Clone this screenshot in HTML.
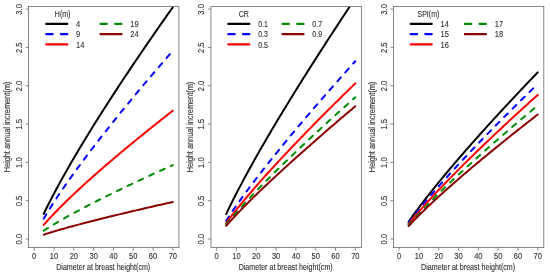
<!DOCTYPE html>
<html><head><meta charset="utf-8"><title>Height annual increment</title>
<style>html,body{margin:0;padding:0;background:#fff;overflow:hidden}svg{display:block}text{stroke:#303030;stroke-width:0.12px}</style>
</head><body>
<svg width="550" height="275" viewBox="0 0 550 275" font-family="'Liberation Sans', Arial, sans-serif" font-size="9.0" fill="#303030">
<rect width="550" height="275" fill="#fff"/>
<filter id="bl" x="0" y="0" width="100%" height="100%" filterUnits="userSpaceOnUse" color-interpolation-filters="sRGB"><feGaussianBlur stdDeviation="0.45 0.3"/></filter>
<g filter="url(#bl)">
<rect width="550" height="275" fill="#fff"/>
<g transform="translate(0.00,0)">
<clipPath id="c0"><rect x="28.5" y="6.5" width="150.4" height="241.1"/></clipPath>
<g clip-path="url(#c0)" fill="none" stroke-width="2.0" stroke-linecap="round" stroke-linejoin="round">
<path d="M43.73,213.92 L45.71,209.79 L47.70,205.77 L49.69,201.83 L51.67,197.97 L53.66,194.18 L55.64,190.44 L57.63,186.75 L59.61,183.11 L61.60,179.51 L63.59,175.95 L65.57,172.42 L67.56,168.93 L69.54,165.47 L71.53,162.04 L73.51,158.64 L75.50,155.26 L77.49,151.90 L79.47,148.57 L81.46,145.27 L83.44,141.98 L85.43,138.71 L87.41,135.46 L89.40,132.23 L91.39,129.02 L93.37,125.82 L95.36,122.64 L97.34,119.48 L99.33,116.33 L101.31,113.19 L103.30,110.07 L105.29,106.97 L107.27,103.87 L109.26,100.79 L111.24,97.72 L113.23,94.66 L115.21,91.62 L117.20,88.58 L119.19,85.56 L121.17,82.55 L123.16,79.54 L125.14,76.55 L127.13,73.57 L129.11,70.60 L131.10,67.63 L133.08,64.68 L135.07,61.73 L137.06,58.80 L139.04,55.87 L141.03,52.95 L143.01,50.04 L145.00,47.14 L146.98,44.24 L148.97,41.35 L150.96,38.47 L152.94,35.60 L154.93,32.73 L156.91,29.88 L158.90,27.03 L160.88,24.18 L162.87,21.34 L164.86,18.51 L166.84,15.69 L168.83,12.87 L170.81,10.06 L172.80,7.25" stroke="#000000"/>
<path d="M43.73,218.57 L45.71,215.22 L47.70,211.96 L49.69,208.76 L51.67,205.63 L53.66,202.55 L55.64,199.51 L57.63,196.52 L59.61,193.57 L61.60,190.64 L63.59,187.76 L65.57,184.89 L67.56,182.06 L69.54,179.25 L71.53,176.47 L73.51,173.71 L75.50,170.97 L77.49,168.24 L79.47,165.54 L81.46,162.86 L83.44,160.19 L85.43,157.54 L87.41,154.90 L89.40,152.28 L91.39,149.67 L93.37,147.08 L95.36,144.50 L97.34,141.93 L99.33,139.37 L101.31,136.83 L103.30,134.30 L105.29,131.78 L107.27,129.27 L109.26,126.76 L111.24,124.27 L113.23,121.79 L115.21,119.32 L117.20,116.86 L119.19,114.41 L121.17,111.96 L123.16,109.52 L125.14,107.10 L127.13,104.68 L129.11,102.26 L131.10,99.86 L133.08,97.46 L135.07,95.07 L137.06,92.69 L139.04,90.31 L141.03,87.94 L143.01,85.58 L145.00,83.22 L146.98,80.87 L148.97,78.53 L150.96,76.19 L152.94,73.86 L154.93,71.54 L156.91,69.22 L158.90,66.90 L160.88,64.59 L162.87,62.29 L164.86,59.99 L166.84,57.70 L168.83,55.42 L170.81,53.13 L172.80,50.86" stroke="#0000ff" stroke-dasharray="5.1 6.8"/>
<path d="M43.73,224.96 L45.71,222.67 L47.70,220.45 L49.69,218.27 L51.67,216.14 L53.66,214.04 L55.64,211.97 L57.63,209.93 L59.61,207.92 L61.60,205.93 L63.59,203.96 L65.57,202.01 L67.56,200.08 L69.54,198.17 L71.53,196.28 L73.51,194.39 L75.50,192.53 L77.49,190.67 L79.47,188.83 L81.46,187.00 L83.44,185.18 L85.43,183.38 L87.41,181.58 L89.40,179.80 L91.39,178.02 L93.37,176.25 L95.36,174.50 L97.34,172.75 L99.33,171.01 L101.31,169.27 L103.30,167.55 L105.29,165.83 L107.27,164.12 L109.26,162.42 L111.24,160.72 L113.23,159.03 L115.21,157.34 L117.20,155.67 L119.19,154.00 L121.17,152.33 L123.16,150.67 L125.14,149.02 L127.13,147.37 L129.11,145.72 L131.10,144.09 L133.08,142.45 L135.07,140.82 L137.06,139.20 L139.04,137.58 L141.03,135.97 L143.01,134.36 L145.00,132.75 L146.98,131.15 L148.97,129.56 L150.96,127.96 L152.94,126.38 L154.93,124.79 L156.91,123.21 L158.90,121.64 L160.88,120.06 L162.87,118.49 L164.86,116.93 L166.84,115.37 L168.83,113.81 L170.81,112.26 L172.80,110.70" stroke="#ff0000"/>
<path d="M43.73,230.76 L45.71,229.45 L47.70,228.17 L49.69,226.92 L51.67,225.69 L53.66,224.49 L55.64,223.30 L57.63,222.13 L59.61,220.97 L61.60,219.83 L63.59,218.70 L65.57,217.58 L67.56,216.47 L69.54,215.37 L71.53,214.28 L73.51,213.20 L75.50,212.13 L77.49,211.06 L79.47,210.00 L81.46,208.95 L83.44,207.91 L85.43,206.87 L87.41,205.84 L89.40,204.81 L91.39,203.79 L93.37,202.78 L95.36,201.77 L97.34,200.76 L99.33,199.76 L101.31,198.76 L103.30,197.77 L105.29,196.79 L107.27,195.80 L109.26,194.82 L111.24,193.85 L113.23,192.88 L115.21,191.91 L117.20,190.95 L119.19,189.99 L121.17,189.03 L123.16,188.08 L125.14,187.13 L127.13,186.18 L129.11,185.23 L131.10,184.29 L133.08,183.35 L135.07,182.42 L137.06,181.49 L139.04,180.56 L141.03,179.63 L143.01,178.70 L145.00,177.78 L146.98,176.86 L148.97,175.94 L150.96,175.03 L152.94,174.12 L154.93,173.21 L156.91,172.30 L158.90,171.39 L160.88,170.49 L162.87,169.59 L164.86,168.69 L166.84,167.79 L168.83,166.90 L170.81,166.00 L172.80,165.11" stroke="#008b00" stroke-dasharray="5.1 6.8"/>
<path d="M43.73,234.69 L45.71,234.04 L47.70,233.40 L49.69,232.78 L51.67,232.17 L53.66,231.57 L55.64,230.97 L57.63,230.39 L59.61,229.81 L61.60,229.24 L63.59,228.68 L65.57,228.12 L67.56,227.57 L69.54,227.02 L71.53,226.48 L73.51,225.94 L75.50,225.40 L77.49,224.87 L79.47,224.35 L81.46,223.82 L83.44,223.30 L85.43,222.78 L87.41,222.27 L89.40,221.76 L91.39,221.25 L93.37,220.74 L95.36,220.24 L97.34,219.74 L99.33,219.24 L101.31,218.74 L103.30,218.25 L105.29,217.76 L107.27,217.27 L109.26,216.78 L111.24,216.29 L113.23,215.81 L115.21,215.33 L117.20,214.85 L119.19,214.37 L121.17,213.89 L123.16,213.42 L125.14,212.94 L127.13,212.47 L129.11,212.00 L131.10,211.53 L133.08,211.06 L135.07,210.60 L137.06,210.13 L139.04,209.67 L141.03,209.21 L143.01,208.75 L145.00,208.29 L146.98,207.83 L148.97,207.37 L150.96,206.91 L152.94,206.46 L154.93,206.01 L156.91,205.55 L158.90,205.10 L160.88,204.65 L162.87,204.20 L164.86,203.75 L166.84,203.31 L168.83,202.86 L170.81,202.42 L172.80,201.97" stroke="#8b0000"/>
</g>
<rect x="28.5" y="6.5" width="150.4" height="241.1" fill="none" stroke="#6a6a6a" stroke-width="0.8"/>
<path d="M34.20,247.6 v3 M54.01,247.6 v3 M73.82,247.6 v3 M93.63,247.6 v3 M113.44,247.6 v3 M133.25,247.6 v3 M153.06,247.6 v3 M172.87,247.6 v3 M28.5,239.00 h-3 M28.5,200.69 h-3 M28.5,162.37 h-3 M28.5,124.06 h-3 M28.5,85.74 h-3 M28.5,47.43 h-3 M28.5,9.11 h-3" stroke="#6a6a6a" stroke-width="0.8" fill="none"/>
<text transform="translate(34.20,258.6) scale(0.84,1)" text-anchor="middle">0</text>
<text transform="translate(54.01,258.6) scale(0.84,1)" text-anchor="middle">10</text>
<text transform="translate(73.82,258.6) scale(0.84,1)" text-anchor="middle">20</text>
<text transform="translate(93.63,258.6) scale(0.84,1)" text-anchor="middle">30</text>
<text transform="translate(113.44,258.6) scale(0.84,1)" text-anchor="middle">40</text>
<text transform="translate(133.25,258.6) scale(0.84,1)" text-anchor="middle">50</text>
<text transform="translate(153.06,258.6) scale(0.84,1)" text-anchor="middle">60</text>
<text transform="translate(172.87,258.6) scale(0.84,1)" text-anchor="middle">70</text>
<text transform="translate(21.6,239.30) rotate(-90) scale(0.84,1)" text-anchor="middle">0.0</text>
<text transform="translate(21.6,200.99) rotate(-90) scale(0.84,1)" text-anchor="middle">0.5</text>
<text transform="translate(21.6,162.67) rotate(-90) scale(0.84,1)" text-anchor="middle">1.0</text>
<text transform="translate(21.6,124.36) rotate(-90) scale(0.84,1)" text-anchor="middle">1.5</text>
<text transform="translate(21.6,86.04) rotate(-90) scale(0.84,1)" text-anchor="middle">2.0</text>
<text transform="translate(21.6,47.73) rotate(-90) scale(0.84,1)" text-anchor="middle">2.5</text>
<text transform="translate(21.6,9.41) rotate(-90) scale(0.84,1)" text-anchor="middle">3.0</text>
<text transform="translate(103.20,270.4) scale(0.79,1)" text-anchor="middle">Diameter at breast height(cm)</text>
<text transform="translate(10.3,127.05) rotate(-90) scale(0.816,1)" text-anchor="middle">Height annual increment(m)</text>
<text transform="translate(62.6,17.2) scale(0.78,1)" text-anchor="middle">H(m)</text>
<path d="M46.25,23.90 h21.10" stroke="#000000" stroke-width="2.1" stroke-linecap="round" fill="none"/>
<text transform="translate(76.10,27.10) scale(0.84,1)">4</text>
<path d="M46.25,34.15 h21.10" stroke="#0000ff" stroke-width="2.1" stroke-linecap="round" fill="none" stroke-dasharray="6.4 8.3"/>
<text transform="translate(76.10,37.35) scale(0.84,1)">9</text>
<path d="M46.25,44.40 h21.10" stroke="#ff0000" stroke-width="2.1" stroke-linecap="round" fill="none"/>
<text transform="translate(76.10,47.60) scale(0.84,1)">14</text>
<path d="M100.45,23.90 h21.10" stroke="#008b00" stroke-width="2.1" stroke-linecap="round" fill="none" stroke-dasharray="6.4 8.3"/>
<text transform="translate(130.30,27.10) scale(0.84,1)">19</text>
<path d="M100.45,34.15 h21.10" stroke="#8b0000" stroke-width="2.1" stroke-linecap="round" fill="none"/>
<text transform="translate(130.30,37.35) scale(0.84,1)">24</text>
</g>
<g transform="translate(182.45,0)">
<clipPath id="c1"><rect x="28.5" y="6.5" width="150.4" height="241.1"/></clipPath>
<g clip-path="url(#c1)" fill="none" stroke-width="2.0" stroke-linecap="round" stroke-linejoin="round">
<path d="M43.73,214.10 L45.71,209.91 L47.70,205.82 L49.69,201.81 L51.67,197.86 L53.66,193.97 L55.64,190.14 L57.63,186.35 L59.61,182.60 L61.60,178.90 L63.59,175.22 L65.57,171.58 L67.56,167.98 L69.54,164.40 L71.53,160.84 L73.51,157.32 L75.50,153.81 L77.49,150.33 L79.47,146.87 L81.46,143.43 L83.44,140.01 L85.43,136.61 L87.41,133.22 L89.40,129.86 L91.39,126.51 L93.37,123.17 L95.36,119.85 L97.34,116.54 L99.33,113.25 L101.31,109.97 L103.30,106.71 L105.29,103.45 L107.27,100.21 L109.26,96.98 L111.24,93.76 L113.23,90.56 L115.21,87.36 L117.20,84.17 L119.19,81.00 L121.17,77.83 L123.16,74.68 L125.14,71.53 L127.13,68.39 L129.11,65.27 L131.10,62.15 L133.08,59.04 L135.07,55.93 L137.06,52.84 L139.04,49.75 L141.03,46.68 L143.01,43.61 L145.00,40.54 L146.98,37.49 L148.97,34.44 L150.96,31.40 L152.94,28.36 L154.93,25.34 L156.91,22.31 L158.90,19.30 L160.88,16.29 L162.87,13.29 L164.86,10.30 L166.84,7.31 L168.83,4.32 L170.81,1.35 L172.80,-1.63" stroke="#000000"/>
<path d="M43.73,220.75 L45.71,217.68 L47.70,214.68 L49.69,211.73 L51.67,208.83 L53.66,205.98 L55.64,203.16 L57.63,200.37 L59.61,197.61 L61.60,194.88 L63.59,192.18 L65.57,189.50 L67.56,186.84 L69.54,184.20 L71.53,181.58 L73.51,178.98 L75.50,176.39 L77.49,173.82 L79.47,171.27 L81.46,168.73 L83.44,166.20 L85.43,163.69 L87.41,161.19 L89.40,158.70 L91.39,156.22 L93.37,153.76 L95.36,151.30 L97.34,148.86 L99.33,146.42 L101.31,144.00 L103.30,141.58 L105.29,139.17 L107.27,136.77 L109.26,134.38 L111.24,132.00 L113.23,129.63 L115.21,127.26 L117.20,124.90 L119.19,122.55 L121.17,120.21 L123.16,117.87 L125.14,115.54 L127.13,113.21 L129.11,110.90 L131.10,108.58 L133.08,106.28 L135.07,103.98 L137.06,101.69 L139.04,99.40 L141.03,97.12 L143.01,94.84 L145.00,92.57 L146.98,90.30 L148.97,88.04 L150.96,85.78 L152.94,83.53 L154.93,81.29 L156.91,79.05 L158.90,76.81 L160.88,74.58 L162.87,72.35 L164.86,70.13 L166.84,67.91 L168.83,65.69 L170.81,63.48 L172.80,61.28" stroke="#0000ff" stroke-dasharray="5.1 6.8"/>
<path d="M43.73,222.98 L45.71,220.29 L47.70,217.67 L49.69,215.09 L51.67,212.55 L53.66,210.05 L55.64,207.58 L57.63,205.14 L59.61,202.73 L61.60,200.34 L63.59,197.98 L65.57,195.63 L67.56,193.30 L69.54,190.99 L71.53,188.70 L73.51,186.42 L75.50,184.16 L77.49,181.91 L79.47,179.68 L81.46,177.45 L83.44,175.24 L85.43,173.04 L87.41,170.86 L89.40,168.68 L91.39,166.51 L93.37,164.35 L95.36,162.20 L97.34,160.06 L99.33,157.93 L101.31,155.81 L103.30,153.70 L105.29,151.59 L107.27,149.49 L109.26,147.40 L111.24,145.31 L113.23,143.24 L115.21,141.17 L117.20,139.10 L119.19,137.04 L121.17,134.99 L123.16,132.95 L125.14,130.91 L127.13,128.87 L129.11,126.84 L131.10,124.82 L133.08,122.80 L135.07,120.79 L137.06,118.78 L139.04,116.78 L141.03,114.79 L143.01,112.79 L145.00,110.81 L146.98,108.82 L148.97,106.84 L150.96,104.87 L152.94,102.90 L154.93,100.93 L156.91,98.97 L158.90,97.02 L160.88,95.06 L162.87,93.11 L164.86,91.17 L166.84,89.23 L168.83,87.29 L170.81,85.35 L172.80,83.42" stroke="#ff0000"/>
<path d="M43.73,224.56 L45.71,222.13 L47.70,219.76 L49.69,217.42 L51.67,215.12 L53.66,212.85 L55.64,210.62 L57.63,208.40 L59.61,206.21 L61.60,204.04 L63.59,201.89 L65.57,199.76 L67.56,197.64 L69.54,195.54 L71.53,193.46 L73.51,191.38 L75.50,189.32 L77.49,187.28 L79.47,185.24 L81.46,183.22 L83.44,181.20 L85.43,179.20 L87.41,177.20 L89.40,175.22 L91.39,173.24 L93.37,171.27 L95.36,169.31 L97.34,167.36 L99.33,165.42 L101.31,163.48 L103.30,161.55 L105.29,159.63 L107.27,157.71 L109.26,155.80 L111.24,153.90 L113.23,152.00 L115.21,150.11 L117.20,148.23 L119.19,146.35 L121.17,144.47 L123.16,142.60 L125.14,140.74 L127.13,138.88 L129.11,137.03 L131.10,135.18 L133.08,133.33 L135.07,131.49 L137.06,129.66 L139.04,127.83 L141.03,126.00 L143.01,124.18 L145.00,122.36 L146.98,120.54 L148.97,118.73 L150.96,116.93 L152.94,115.12 L154.93,113.33 L156.91,111.53 L158.90,109.74 L160.88,107.95 L162.87,106.17 L164.86,104.39 L166.84,102.61 L168.83,100.83 L170.81,99.06 L172.80,97.29" stroke="#008b00" stroke-dasharray="5.1 6.8"/>
<path d="M43.73,225.80 L45.71,223.56 L47.70,221.36 L49.69,219.20 L51.67,217.07 L53.66,214.97 L55.64,212.89 L57.63,210.83 L59.61,208.79 L61.60,206.77 L63.59,204.76 L65.57,202.78 L67.56,200.80 L69.54,198.84 L71.53,196.89 L73.51,194.95 L75.50,193.03 L77.49,191.11 L79.47,189.21 L81.46,187.31 L83.44,185.43 L85.43,183.55 L87.41,181.68 L89.40,179.82 L91.39,177.96 L93.37,176.11 L95.36,174.27 L97.34,172.44 L99.33,170.62 L101.31,168.79 L103.30,166.98 L105.29,165.17 L107.27,163.37 L109.26,161.57 L111.24,159.78 L113.23,158.00 L115.21,156.22 L117.20,154.44 L119.19,152.67 L121.17,150.90 L123.16,149.14 L125.14,147.38 L127.13,145.63 L129.11,143.88 L131.10,142.14 L133.08,140.40 L135.07,138.66 L137.06,136.93 L139.04,135.20 L141.03,133.48 L143.01,131.76 L145.00,130.04 L146.98,128.32 L148.97,126.61 L150.96,124.91 L152.94,123.20 L154.93,121.50 L156.91,119.81 L158.90,118.11 L160.88,116.42 L162.87,114.73 L164.86,113.05 L166.84,111.37 L168.83,109.69 L170.81,108.01 L172.80,106.34" stroke="#8b0000"/>
</g>
<rect x="28.5" y="6.5" width="150.4" height="241.1" fill="none" stroke="#6a6a6a" stroke-width="0.8"/>
<path d="M34.20,247.6 v3 M54.01,247.6 v3 M73.82,247.6 v3 M93.63,247.6 v3 M113.44,247.6 v3 M133.25,247.6 v3 M153.06,247.6 v3 M172.87,247.6 v3 M28.5,239.00 h-3 M28.5,200.69 h-3 M28.5,162.37 h-3 M28.5,124.06 h-3 M28.5,85.74 h-3 M28.5,47.43 h-3 M28.5,9.11 h-3" stroke="#6a6a6a" stroke-width="0.8" fill="none"/>
<text transform="translate(34.20,258.6) scale(0.84,1)" text-anchor="middle">0</text>
<text transform="translate(54.01,258.6) scale(0.84,1)" text-anchor="middle">10</text>
<text transform="translate(73.82,258.6) scale(0.84,1)" text-anchor="middle">20</text>
<text transform="translate(93.63,258.6) scale(0.84,1)" text-anchor="middle">30</text>
<text transform="translate(113.44,258.6) scale(0.84,1)" text-anchor="middle">40</text>
<text transform="translate(133.25,258.6) scale(0.84,1)" text-anchor="middle">50</text>
<text transform="translate(153.06,258.6) scale(0.84,1)" text-anchor="middle">60</text>
<text transform="translate(172.87,258.6) scale(0.84,1)" text-anchor="middle">70</text>
<text transform="translate(21.6,239.30) rotate(-90) scale(0.84,1)" text-anchor="middle">0.0</text>
<text transform="translate(21.6,200.99) rotate(-90) scale(0.84,1)" text-anchor="middle">0.5</text>
<text transform="translate(21.6,162.67) rotate(-90) scale(0.84,1)" text-anchor="middle">1.0</text>
<text transform="translate(21.6,124.36) rotate(-90) scale(0.84,1)" text-anchor="middle">1.5</text>
<text transform="translate(21.6,86.04) rotate(-90) scale(0.84,1)" text-anchor="middle">2.0</text>
<text transform="translate(21.6,47.73) rotate(-90) scale(0.84,1)" text-anchor="middle">2.5</text>
<text transform="translate(21.6,9.41) rotate(-90) scale(0.84,1)" text-anchor="middle">3.0</text>
<text transform="translate(103.20,270.4) scale(0.79,1)" text-anchor="middle">Diameter at breast height(cm)</text>
<text transform="translate(10.3,127.05) rotate(-90) scale(0.816,1)" text-anchor="middle">Height annual increment(m)</text>
<text transform="translate(61.4,17.2) scale(0.78,1)" text-anchor="middle">CR</text>
<path d="M45.85,23.90 h21.10" stroke="#000000" stroke-width="2.1" stroke-linecap="round" fill="none"/>
<text transform="translate(75.70,27.10) scale(0.78,1)">0.1</text>
<path d="M45.85,34.15 h21.10" stroke="#0000ff" stroke-width="2.1" stroke-linecap="round" fill="none" stroke-dasharray="6.4 8.3"/>
<text transform="translate(75.70,37.35) scale(0.78,1)">0.3</text>
<path d="M45.85,44.40 h21.10" stroke="#ff0000" stroke-width="2.1" stroke-linecap="round" fill="none"/>
<text transform="translate(75.70,47.60) scale(0.78,1)">0.5</text>
<path d="M100.05,23.90 h21.10" stroke="#008b00" stroke-width="2.1" stroke-linecap="round" fill="none" stroke-dasharray="6.4 8.3"/>
<text transform="translate(129.90,27.10) scale(0.78,1)">0.7</text>
<path d="M100.05,34.15 h21.10" stroke="#8b0000" stroke-width="2.1" stroke-linecap="round" fill="none"/>
<text transform="translate(129.90,37.35) scale(0.78,1)">0.9</text>
</g>
<g transform="translate(364.90,0)">
<clipPath id="c2"><rect x="28.5" y="6.5" width="150.4" height="241.1"/></clipPath>
<g clip-path="url(#c2)" fill="none" stroke-width="2.0" stroke-linecap="round" stroke-linejoin="round">
<path d="M43.73,221.87 L45.71,218.99 L47.70,216.18 L49.69,213.42 L51.67,210.70 L53.66,208.02 L55.64,205.38 L57.63,202.76 L59.61,200.18 L61.60,197.62 L63.59,195.09 L65.57,192.57 L67.56,190.08 L69.54,187.61 L71.53,185.15 L73.51,182.71 L75.50,180.29 L77.49,177.88 L79.47,175.49 L81.46,173.11 L83.44,170.74 L85.43,168.38 L87.41,166.04 L89.40,163.71 L91.39,161.38 L93.37,159.07 L95.36,156.77 L97.34,154.48 L99.33,152.20 L101.31,149.92 L103.30,147.66 L105.29,145.40 L107.27,143.15 L109.26,140.91 L111.24,138.68 L113.23,136.46 L115.21,134.24 L117.20,132.03 L119.19,129.82 L121.17,127.62 L123.16,125.43 L125.14,123.25 L127.13,121.07 L129.11,118.90 L131.10,116.73 L133.08,114.57 L135.07,112.41 L137.06,110.26 L139.04,108.12 L141.03,105.98 L143.01,103.85 L145.00,101.72 L146.98,99.59 L148.97,97.47 L150.96,95.36 L152.94,93.25 L154.93,91.14 L156.91,89.04 L158.90,86.95 L160.88,84.86 L162.87,82.77 L164.86,80.68 L166.84,78.60 L168.83,76.53 L170.81,74.46 L172.80,72.39" stroke="#000000"/>
<path d="M43.73,223.04 L45.71,220.37 L47.70,217.75 L49.69,215.18 L51.67,212.65 L53.66,210.16 L55.64,207.71 L57.63,205.28 L59.61,202.87 L61.60,200.49 L63.59,198.14 L65.57,195.80 L67.56,193.48 L69.54,191.18 L71.53,188.90 L73.51,186.63 L75.50,184.37 L77.49,182.14 L79.47,179.91 L81.46,177.69 L83.44,175.49 L85.43,173.30 L87.41,171.12 L89.40,168.95 L91.39,166.79 L93.37,164.65 L95.36,162.51 L97.34,160.37 L99.33,158.25 L101.31,156.14 L103.30,154.03 L105.29,151.93 L107.27,149.84 L109.26,147.76 L111.24,145.68 L113.23,143.61 L115.21,141.55 L117.20,139.49 L119.19,137.45 L121.17,135.40 L123.16,133.36 L125.14,131.33 L127.13,129.31 L129.11,127.29 L131.10,125.27 L133.08,123.26 L135.07,121.26 L137.06,119.26 L139.04,117.26 L141.03,115.27 L143.01,113.29 L145.00,111.31 L146.98,109.34 L148.97,107.36 L150.96,105.40 L152.94,103.44 L154.93,101.48 L156.91,99.52 L158.90,97.58 L160.88,95.63 L162.87,93.69 L164.86,91.75 L166.84,89.82 L168.83,87.89 L170.81,85.96 L172.80,84.04" stroke="#0000ff" stroke-dasharray="5.1 6.8"/>
<path d="M43.73,224.14 L45.71,221.65 L47.70,219.22 L49.69,216.83 L51.67,214.48 L53.66,212.17 L55.64,209.88 L57.63,207.62 L59.61,205.39 L61.60,203.18 L63.59,200.98 L65.57,198.81 L67.56,196.66 L69.54,194.52 L71.53,192.40 L73.51,190.29 L75.50,188.19 L77.49,186.11 L79.47,184.04 L81.46,181.98 L83.44,179.94 L85.43,177.90 L87.41,175.87 L89.40,173.86 L91.39,171.85 L93.37,169.85 L95.36,167.86 L97.34,165.88 L99.33,163.91 L101.31,161.94 L103.30,159.99 L105.29,158.03 L107.27,156.09 L109.26,154.15 L111.24,152.22 L113.23,150.30 L115.21,148.38 L117.20,146.47 L119.19,144.57 L121.17,142.67 L123.16,140.77 L125.14,138.88 L127.13,137.00 L129.11,135.12 L131.10,133.25 L133.08,131.38 L135.07,129.52 L137.06,127.66 L139.04,125.81 L141.03,123.96 L143.01,122.11 L145.00,120.27 L146.98,118.44 L148.97,116.60 L150.96,114.78 L152.94,112.95 L154.93,111.13 L156.91,109.32 L158.90,107.50 L160.88,105.69 L162.87,103.89 L164.86,102.09 L166.84,100.29 L168.83,98.50 L170.81,96.71 L172.80,94.92" stroke="#ff0000"/>
<path d="M43.73,225.20 L45.71,222.90 L47.70,220.64 L49.69,218.43 L51.67,216.26 L53.66,214.11 L55.64,211.99 L57.63,209.90 L59.61,207.83 L61.60,205.78 L63.59,203.75 L65.57,201.74 L67.56,199.74 L69.54,197.76 L71.53,195.80 L73.51,193.84 L75.50,191.90 L77.49,189.97 L79.47,188.06 L81.46,186.15 L83.44,184.25 L85.43,182.37 L87.41,180.49 L89.40,178.62 L91.39,176.76 L93.37,174.91 L95.36,173.07 L97.34,171.23 L99.33,169.41 L101.31,167.59 L103.30,165.77 L105.29,163.96 L107.27,162.16 L109.26,160.37 L111.24,158.58 L113.23,156.80 L115.21,155.02 L117.20,153.25 L119.19,151.49 L121.17,149.73 L123.16,147.97 L125.14,146.22 L127.13,144.48 L129.11,142.74 L131.10,141.00 L133.08,139.27 L135.07,137.55 L137.06,135.83 L139.04,134.11 L141.03,132.39 L143.01,130.69 L145.00,128.98 L146.98,127.28 L148.97,125.58 L150.96,123.89 L152.94,122.20 L154.93,120.51 L156.91,118.83 L158.90,117.15 L160.88,115.48 L162.87,113.80 L164.86,112.14 L166.84,110.47 L168.83,108.81 L170.81,107.15 L172.80,105.49" stroke="#008b00" stroke-dasharray="5.1 6.8"/>
<path d="M43.73,226.11 L45.71,223.96 L47.70,221.86 L49.69,219.80 L51.67,217.77 L53.66,215.78 L55.64,213.80 L57.63,211.85 L59.61,209.92 L61.60,208.01 L63.59,206.12 L65.57,204.24 L67.56,202.38 L69.54,200.54 L71.53,198.70 L73.51,196.88 L75.50,195.07 L77.49,193.28 L79.47,191.49 L81.46,189.71 L83.44,187.95 L85.43,186.19 L87.41,184.44 L89.40,182.70 L91.39,180.96 L93.37,179.24 L95.36,177.52 L97.34,175.81 L99.33,174.11 L101.31,172.41 L103.30,170.72 L105.29,169.03 L107.27,167.36 L109.26,165.68 L111.24,164.02 L113.23,162.36 L115.21,160.70 L117.20,159.05 L119.19,157.41 L121.17,155.76 L123.16,154.13 L125.14,152.50 L127.13,150.87 L129.11,149.25 L131.10,147.63 L133.08,146.02 L135.07,144.41 L137.06,142.81 L139.04,141.21 L141.03,139.61 L143.01,138.02 L145.00,136.43 L146.98,134.84 L148.97,133.26 L150.96,131.68 L152.94,130.11 L154.93,128.54 L156.91,126.97 L158.90,125.40 L160.88,123.84 L162.87,122.28 L164.86,120.73 L166.84,119.17 L168.83,117.63 L170.81,116.08 L172.80,114.54" stroke="#8b0000"/>
</g>
<rect x="28.5" y="6.5" width="150.4" height="241.1" fill="none" stroke="#6a6a6a" stroke-width="0.8"/>
<path d="M34.20,247.6 v3 M54.01,247.6 v3 M73.82,247.6 v3 M93.63,247.6 v3 M113.44,247.6 v3 M133.25,247.6 v3 M153.06,247.6 v3 M172.87,247.6 v3 M28.5,239.00 h-3 M28.5,200.69 h-3 M28.5,162.37 h-3 M28.5,124.06 h-3 M28.5,85.74 h-3 M28.5,47.43 h-3 M28.5,9.11 h-3" stroke="#6a6a6a" stroke-width="0.8" fill="none"/>
<text transform="translate(34.20,258.6) scale(0.84,1)" text-anchor="middle">0</text>
<text transform="translate(54.01,258.6) scale(0.84,1)" text-anchor="middle">10</text>
<text transform="translate(73.82,258.6) scale(0.84,1)" text-anchor="middle">20</text>
<text transform="translate(93.63,258.6) scale(0.84,1)" text-anchor="middle">30</text>
<text transform="translate(113.44,258.6) scale(0.84,1)" text-anchor="middle">40</text>
<text transform="translate(133.25,258.6) scale(0.84,1)" text-anchor="middle">50</text>
<text transform="translate(153.06,258.6) scale(0.84,1)" text-anchor="middle">60</text>
<text transform="translate(172.87,258.6) scale(0.84,1)" text-anchor="middle">70</text>
<text transform="translate(21.6,239.30) rotate(-90) scale(0.84,1)" text-anchor="middle">0.0</text>
<text transform="translate(21.6,200.99) rotate(-90) scale(0.84,1)" text-anchor="middle">0.5</text>
<text transform="translate(21.6,162.67) rotate(-90) scale(0.84,1)" text-anchor="middle">1.0</text>
<text transform="translate(21.6,124.36) rotate(-90) scale(0.84,1)" text-anchor="middle">1.5</text>
<text transform="translate(21.6,86.04) rotate(-90) scale(0.84,1)" text-anchor="middle">2.0</text>
<text transform="translate(21.6,47.73) rotate(-90) scale(0.84,1)" text-anchor="middle">2.5</text>
<text transform="translate(21.6,9.41) rotate(-90) scale(0.84,1)" text-anchor="middle">3.0</text>
<text transform="translate(103.20,270.4) scale(0.79,1)" text-anchor="middle">Diameter at breast height(cm)</text>
<text transform="translate(10.3,127.05) rotate(-90) scale(0.816,1)" text-anchor="middle">Height annual increment(m)</text>
<text transform="translate(63.5,17.2) scale(0.78,1)" text-anchor="middle">SPI(m)</text>
<path d="M45.75,23.90 h21.10" stroke="#000000" stroke-width="2.1" stroke-linecap="round" fill="none"/>
<text transform="translate(75.60,27.10) scale(0.84,1)">14</text>
<path d="M45.75,34.15 h21.10" stroke="#0000ff" stroke-width="2.1" stroke-linecap="round" fill="none" stroke-dasharray="6.4 8.3"/>
<text transform="translate(75.60,37.35) scale(0.84,1)">15</text>
<path d="M45.75,44.40 h21.10" stroke="#ff0000" stroke-width="2.1" stroke-linecap="round" fill="none"/>
<text transform="translate(75.60,47.60) scale(0.84,1)">16</text>
<path d="M99.95,23.90 h21.10" stroke="#008b00" stroke-width="2.1" stroke-linecap="round" fill="none" stroke-dasharray="6.4 8.3"/>
<text transform="translate(129.80,27.10) scale(0.84,1)">17</text>
<path d="M99.95,34.15 h21.10" stroke="#8b0000" stroke-width="2.1" stroke-linecap="round" fill="none"/>
<text transform="translate(129.80,37.35) scale(0.84,1)">18</text>
</g>
</g>
</svg>
</body></html>
